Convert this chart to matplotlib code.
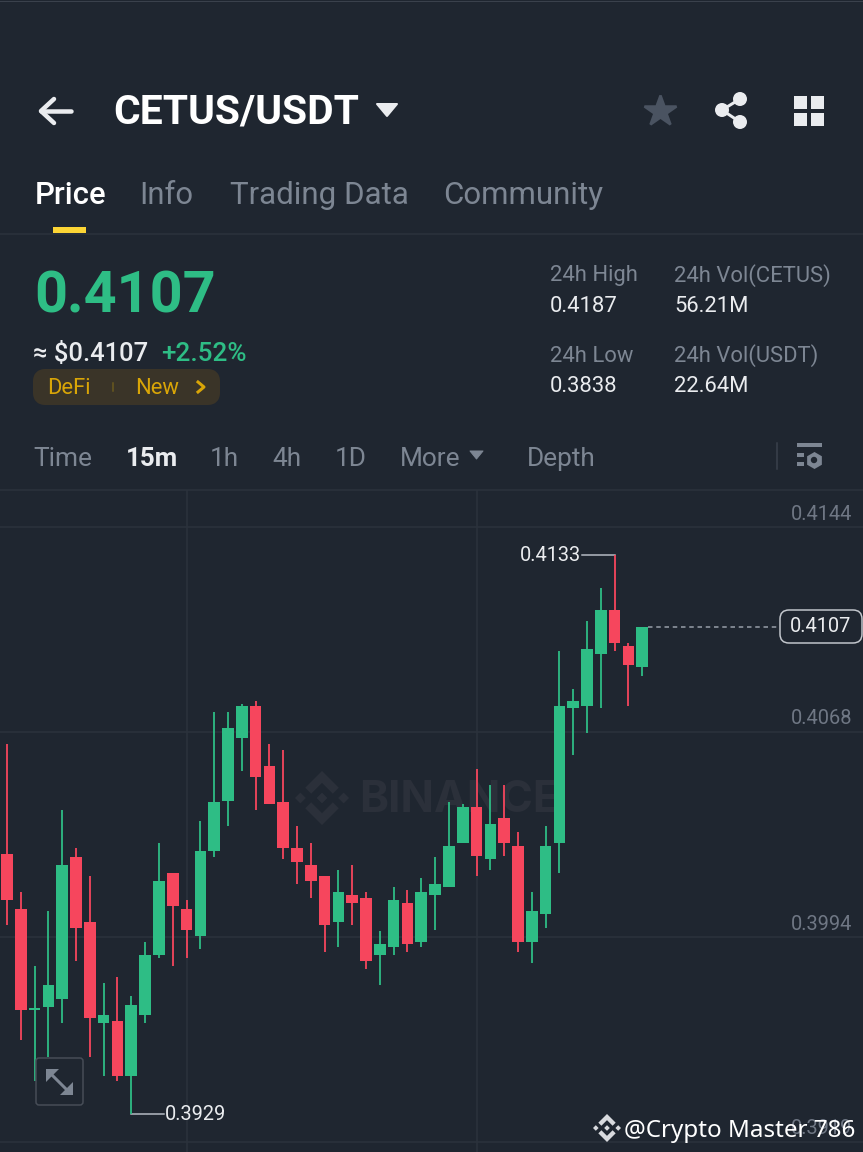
import matplotlib
matplotlib.use('Agg')
import matplotlib.pyplot as plt
from matplotlib.patches import Polygon, Circle, Rectangle, FancyBboxPatch

plt.rcParams['font.family'] = ['Roboto', 'DejaVu Sans']

# candles, 15m
opens = [.40245,.40044,.39674,.39684,.39713,.40234,.39994,.39624,.39633,.39433,.39653,.39873,.40174,.40044,.39944,
         .40255,.40436,.40667,.40785,.40566,.40435,.40264,.40205,.40164,.39994,.40094,.40084,.39873,.39903,.40063,
         .39923,.40094,.40124,.40285,.40414,.40224,.40374,.40274,.39923,.40024,.40285,.40777,.40786,.40977,.41136,.41006,.40927]
closes = [.40074,.39674,.39682,.39763,.40205,.39974,.39644,.39653,.39433,.39692,.39873,.40144,.40055,.39966,.40253,
          .40435,.40705,.40785,.40525,.40425,.40264,.40214,.40144,.39984,.40103,.40063,.39853,.39913,.40074,.39913,
          .40103,.40134,.40274,.40414,.40235,.40355,.40285,.39923,.40034,.40274,.40786,.40805,.40995,.41136,.41017,.40936,.41075]
highs = [.40645,.40103,.39833,.40034,.40405,.40264,.40164,.39773,.39794,.39723,.39923,.40285,.40174,.40074,.40364,
         .40764,.40764,.40792,.40803,.40645,.40625,.40345,.40285,.40164,.40184,.40205,.40103,.39963,.40124,.40113,
         .40155,.40234,.40435,.40425,.40555,.40495,.40495,.40324,.40103,.40345,.40986,.40846,.41096,.41216,.41338,.41017,.41075]
lows = [.39984,.39563,.39413,.39502,.39624,.39853,.39502,.39433,.39413,.39292,.39624,.39864,.39834,.39864,.39895,
        .40234,.40345,.40546,.40405,.40425,.40224,.40134,.40084,.39884,.39903,.39984,.39824,.39763,.39874,.39884,
        .39903,.39964,.40124,.40285,.40164,.40184,.40235,.39884,.39844,.39974,.40174,.40606,.40686,.40777,.40986,.40786,.40896]

grid_prices = [.4144, .4069, .3994, .3919]
grid_labels = ['0.4144', '0.4068', '0.3994', '0.3919']
grid_times = [13, 34]
last_price = .41075

BG = '#1f2630'
GRID = '#2b323c'
GREEN = '#2ebd85'
RED = '#f6465d'
GREY = '#7d8693'
WHITE = '#eaecef'
YELLOW = '#d9a507'

W, H = 863, 1152
fig = plt.figure(figsize=(W/72, H/72), dpi=72, facecolor=BG)

# background layer, pixel coords
bg = fig.add_axes([0, 0, 1, 1], zorder=0)
bg.set_xlim(0, W)
bg.set_ylim(H, 0)
bg.axis('off')


def logo(a, cx, cy, s, color):
    top = [(0, -1), (.62, -.38), (.4, -.16), (0, -.56), (-.4, -.16), (-.62, -.38)]
    diamonds = [(0, 0), (-.8, 0), (.8, 0)]
    for sign in (1, -1):
        a.add_patch(Polygon([(cx+px*s, cy+sign*py*s) for px, py in top], color=color, lw=0))
    for dx, dy in diamonds:
        h = .2*s
        a.add_patch(Polygon([(cx+dx*s-h, cy), (cx+dx*s, cy-h), (cx+dx*s+h, cy), (cx+dx*s, cy+h)], color=color, lw=0))


logo(bg, 322, 798, 27, '#2b303a')
bg.text(359, 800, 'BINANCE', color='#2b303a', fontsize=44, fontweight='bold', va='center', family='Inter')

# chart layer, price and candle index
ax = fig.add_axes([0, 0, 1, (H-490)/H], zorder=1)
ax.patch.set_alpha(0)
k = .0075/205
ax.set_xlim(-7/13.81, (W-7)/13.81)
ax.set_ylim(.4144-(H-527)*k, .4144+37*k)
ax.axis('off')

ax.hlines(grid_prices, ax.get_xlim()[0], ax.get_xlim()[1], color=GRID, lw=1.5, zorder=1)
ax.vlines(grid_times, ax.get_ylim()[0], ax.get_ylim()[1], color=GRID, lw=1.5, zorder=1)

x = list(range(len(opens)))
colors = [GREEN if c >= o else RED for o, c in zip(opens, closes)]
ax.vlines(x, lows, highs, color=colors, lw=1.8, zorder=3)
ax.bar(x, [abs(c-o) for o, c in zip(opens, closes)], bottom=[min(o, c) for o, c in zip(opens, closes)],
       width=.84, color=colors, zorder=3)

# high / low / last markers
hi = highs.index(max(highs))
lo = lows.index(min(lows))
ax.plot([hi-2.35, hi], [highs[hi]]*2, color='#b7bdc6', lw=1.5, zorder=2)
ax.text(hi-2.4, highs[hi]-.00003, '%.4f' % .4133, color=WHITE, fontsize=20, ha='right', va='center')
ax.plot([lo, lo+2.4], [lows[lo]]*2, color='#b7bdc6', lw=1.5, zorder=2)
ax.text(lo+2.4, lows[lo]-.00003, '%.4f' % .3929, color=WHITE, fontsize=20, ha='left', va='center')
ax.plot([len(x)-1+.45, 55.75], [last_price]*2, color='#9aa1ab', lw=1.5, ls=(0, (3, 2.5)), zorder=2)

# ui layer, pixel coords
ui = fig.add_axes([0, 0, 1, 1], zorder=2)
ui.patch.set_alpha(0)
ui.set_xlim(0, W)
ui.set_ylim(H, 0)
ui.axis('off')


def label(px, py, s, size, color=WHITE, weight='normal', ha='left', **kw):
    return ui.text(px, py+2, s, fontsize=size, color=color, fontweight=weight, ha=ha, va='center', **kw)


ui.plot([0, W], [0.5, 0.5], color='#3a414c', lw=1)

# header
ui.plot([41, 71], [111, 111], color=WHITE, lw=4.5, solid_capstyle='round')
ui.plot([54, 41, 54], [99, 111, 123], color=WHITE, lw=4.5, solid_capstyle='round', solid_joinstyle='round')
label(113, 111, 'CETUS/USDT', 40.7, 'white', 'bold')
ui.add_patch(Polygon([(377, 104), (397, 104), (387, 116)], color=WHITE, lw=2, joinstyle='round'))
ui.plot([660], [111], marker='*', ms=33, color='#4a5361', mew=2.5, mec='#4a5361')
for cx, cy in [(740, 99), (722, 110), (740, 122)]:
    ui.add_patch(Circle((cx, cy), 7, color=WHITE, lw=0))
ui.plot([740, 722, 740], [99, 110, 122], color=WHITE, lw=3)
for sx, sy in [(794, 96), (811, 96), (794, 113), (811, 113)]:
    ui.add_patch(Rectangle((sx, sy), 13, 13, color=WHITE, lw=0))

# tabs
label(35, 193, 'Price', 31, 'white', 'medium')
label(139, 193, 'Info', 31, GREY)
label(230, 193, 'Trading Data', 31.3, GREY)
label(443, 193, 'Community', 31.3, GREY)
ui.add_patch(Rectangle((53, 227), 33, 6, color='#fcd535', lw=0))
ui.plot([0, W], [234, 234], color=GRID, lw=1.5)

# price block
label(34, 295, '0.4107', 57.5, GREEN, 'bold')
label(33, 352, '≈ $0.4107', 25.5, WHITE, 'medium')
label(161, 352, '+2.52%', 26, GREEN, 'medium')
ui.add_patch(FancyBboxPatch((39, 375), 175, 24, boxstyle='round,pad=0,rounding_size=6', mutation_aspect=1,
                            fc='#3a3428', ec='#3a3428', lw=12, joinstyle='round'))
label(47, 386, 'DeFi', 22, YELLOW)
ui.plot([113, 113], [383, 391], color='#6b5a1e', lw=1.5)
label(135, 386, 'New', 22, YELLOW)
ui.plot([198, 204, 198], [382, 387, 392], color=YELLOW, lw=3)

# stats
label(550, 274, '24h High', 22, GREY)
label(550, 305, '0.4187', 22, WHITE)
label(550, 354, '24h Low', 22, GREY)
label(550, 385, '0.3838', 22, WHITE)
label(674, 274, '24h Vol(CETUS)', 22, GREY)
label(674, 305, '56.21M', 22, WHITE)
label(674, 354, '24h Vol(USDT)', 22, GREY)
label(674, 385, '22.64M', 22, WHITE)

# intervals
for px, s in [(33, 'Time'), (210, '1h'), (272, '4h'), (335, '1D'), (400, 'More'), (527, 'Depth')]:
    label(px, 457, s, 26.3, GREY)
label(126, 457, '15m', 26, WHITE, 'bold')
ui.add_patch(Polygon([(470, 451), (483, 451), (476.5, 459)], color=GREY, lw=1, joinstyle='round'))
ui.plot([777, 777], [443, 469], color='#3a414c', lw=1.5)
ui.add_patch(Rectangle((797, 443), 25, 3.5, color=GREY, lw=0))
ui.add_patch(Rectangle((797, 453), 7, 3.5, color=GREY, lw=0))
ui.add_patch(Rectangle((797, 462), 7, 3.5, color=GREY, lw=0))
ui.plot([814], [460], marker='h', ms=17, mfc=GREY, mec=GREY, mew=0, zorder=3)
ui.add_patch(Circle((814, 460), 3.2, color=BG, lw=0, zorder=4))
ui.plot([0, W], [490, 490], color=GRID, lw=1.5)

# price scale
for py, s in zip([512, 717, 922, 1127], grid_labels):
    label(852, py, s, 20, '#6f7784', ha='right')
ui.add_patch(FancyBboxPatch((780, 610), 82, 33, boxstyle='round,pad=0,rounding_size=9', fc=BG, ec='#c4c8ce', lw=1.5))
label(821, 625, '0.4107', 20, WHITE, ha='center')

# expand button
ui.add_patch(FancyBboxPatch((36, 1058), 47, 47, boxstyle='round,pad=0,rounding_size=3', fc=BG, ec='#474d57', lw=1.5))
ui.plot([51, 67], [1074, 1090], color='#7d8693', lw=3)
ui.add_patch(Polygon([(46, 1069), (59, 1069), (46, 1082)], color='#7d8693', lw=0))
ui.add_patch(Polygon([(73, 1095), (60, 1095), (73, 1082)], color='#7d8693', lw=0))

# repost watermark
logo(ui, 607, 1128, 14, '#d8dade')
ui.text(624, 1131, '@Crypto Master 786', fontsize=24.2, color='white', va='center', family='Noto Sans')

fig.savefig('out.png', dpi=72, facecolor=BG)
